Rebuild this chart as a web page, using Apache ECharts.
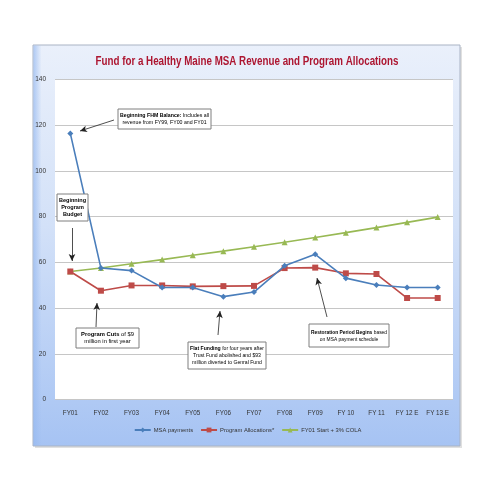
<!DOCTYPE html>
<html><head><meta charset="utf-8">
<script src="https://cdn.jsdelivr.net/npm/echarts@6/dist/echarts.min.js"></script>
<style>html,body{margin:0;padding:0;background:#fff}#c{width:495px;height:495px}</style>
</head><body><div id="c"></div>
<script>
var categories = ['FY01','FY02','FY03','FY04','FY05','FY06','FY07','FY08','FY09','FY 10','FY 11','FY 12 E','FY 13 E'];
var msaPayments = [116.4, 57.5, 56.4, 49, 49, 45, 47, 58.5, 63.5, 53.1, 50.1, 49, 49];
var programAllocations = [56, 47.6, 49.9, 49.9, 49.5, 49.6, 49.7, 57.5, 57.7, 55.2, 54.9, 44.4, 44.4];
var colaLine = [56, 57.5, 59.4, 61.2, 63.1, 64.9, 66.8, 68.8, 70.9, 73.0, 75.2, 77.5, 79.8];
var yTicks = {min: 0, max: 140, interval: 20};
var titleText = 'Fund for a Healthy Maine MSA Revenue and Program Allocations';

var chart = echarts.init(document.getElementById('c'), null, {renderer: 'canvas'});
var fam = '"Liberation Sans", Arial, sans-serif';

var mctx = document.createElement('canvas').getContext('2d');
function measure(txt, font) { mctx.font = font; return mctx.measureText(txt).width; }

// annotation box: lines = [[bold, regular], ...]
function textBox(x, y, w, h, lines) {
  var fs = 5.8;
  var maxW = 0, parts = [];
  lines.forEach(function (ln) {
    var wb = ln[0] ? measure(ln[0], 'bold ' + fs + 'px Liberation Sans') : 0;
    var wr = ln[1] ? measure(ln[1], fs + 'px Liberation Sans') : 0;
    maxW = Math.max(maxW, wb + wr);
    var s = '';
    if (ln[0]) s += '{b|' + ln[0] + '}';
    if (ln[1]) s += '{r|' + ln[1] + '}';
    parts.push(s);
  });
  var sx = Math.min(1, (w - 4) / maxW);
  return {
    type: 'group', x: x, y: y, children: [
      {type: 'rect', shape: {x: 0, y: 0, width: w, height: h},
       style: {fill: '#ffffff', stroke: '#7f7f7f', lineWidth: 1}, z: 100},
      {type: 'text', x: w / 2, y: h / 2, scaleX: sx, z: 101,
       style: {text: parts.join('\n'), align: 'center', verticalAlign: 'middle',
         font: fs + 'px ' + fam, fill: '#000', lineHeight: 7,
         rich: {b: {fontWeight: 'bold', fontSize: fs, fontFamily: fam, fill: '#000', lineHeight: 7},
                r: {fontSize: fs, fontFamily: fam, fill: '#000', lineHeight: 7}}}}
    ]
  };
}

// annotation arrows (pixel positions, not data)
function arrowLine(x1, y1, x2, y2) {
  return [{x: x1, y: y1, symbol: 'none'}, {x: x2, y: y2, symbol: 'arrow', symbolSize: [5, 7]}];
}

var titleFs = 13;
var titleW = measure(titleText, 'bold ' + titleFs + 'px Liberation Sans');
var titleScale = 303 / titleW;

var option = {
  animation: false,
  backgroundColor: '#ffffff',
  grid: {left: 55, right: 42, top: 79.5, bottom: 95.5, show: true, backgroundColor: '#ffffff', borderWidth: 0},
  legend: {
    bottom: 57, left: 'center', itemGap: 7, itemWidth: 16, itemHeight: 6,
    textStyle: {fontSize: 5.8, color: '#333', fontFamily: fam, padding: [0, 0, 0, -2]},
    data: ['MSA payments', 'Program Allocations*', 'FY01 Start + 3% COLA']
  },
  xAxis: {
    type: 'category', data: categories, boundaryGap: true,
    axisLine: {show: false}, axisTick: {show: false},
    axisLabel: {fontSize: 6.3, color: '#333', margin: 11, interval: 0, fontFamily: fam}
  },
  yAxis: {
    type: 'value', min: yTicks.min, max: yTicks.max, interval: yTicks.interval,
    axisLine: {show: false}, axisTick: {show: false},
    axisLabel: {fontSize: 6.5, color: '#333', margin: 9, fontFamily: fam},
    splitLine: {lineStyle: {color: '#c6c6c6', width: 1}}
  },
  series: [
    {
      name: 'MSA payments', type: 'line', data: msaPayments,
      symbol: 'diamond', symbolSize: 6,
      lineStyle: {color: '#4a7ebb', width: 1.6}, itemStyle: {color: '#4a7ebb'},
      z: 3,
      markLine: {
        silent: true, animation: false, symbol: ['none', 'arrow'],
        lineStyle: {color: '#222', width: 0.8, type: 'solid'},
        label: {show: false},
        data: [
          arrowLine(114, 120, 80, 131),
          arrowLine(72, 228, 72, 261),
          arrowLine(96, 327, 97, 303),
          arrowLine(218, 335, 220, 311),
          arrowLine(327, 317, 317, 278)
        ]
      }
    },
    {
      name: 'Program Allocations*', type: 'line', data: programAllocations,
      symbol: 'rect', symbolSize: 6,
      lineStyle: {color: '#be4b48', width: 1.6}, itemStyle: {color: '#be4b48'},
      z: 2
    },
    {
      name: 'FY01 Start + 3% COLA', type: 'line', data: colaLine,
      symbol: 'triangle', symbolSize: 6,
      lineStyle: {color: '#98b954', width: 1.6}, itemStyle: {color: '#98b954'},
      z: 1
    }
  ],
  graphic: [
    {type: 'rect', z: -10, silent: true,
     shape: {x: 35, y: 47, width: 427, height: 401},
     style: {fill: 'rgba(0,0,0,0.12)'}},
    {type: 'rect', z: -9, silent: true,
     shape: {x: 33, y: 45, width: 427, height: 401},
     style: {
       fill: new echarts.graphic.LinearGradient(0, 0, 0, 1, [
         {offset: 0, color: '#eaf0fb'}, {offset: 0.45, color: '#d3e1f8'}, {offset: 1, color: '#a6c3f3'}
       ]),
       stroke: '#a9b3c4', lineWidth: 1}},
    {type: 'rect', z: -8, silent: true,
     shape: {x: 33.5, y: 45.5, width: 8, height: 400},
     style: {fill: new echarts.graphic.LinearGradient(0, 0, 1, 0, [
       {offset: 0, color: 'rgba(150,185,240,0.7)'}, {offset: 1, color: 'rgba(150,185,240,0)'}])}},
    {type: 'text', x: 247, y: 61, scaleX: titleScale, z: 50,
     style: {text: titleText, align: 'center', verticalAlign: 'middle',
       font: 'bold ' + titleFs + 'px ' + fam, fill: '#ad1631'}},
    textBox(118, 109, 93, 20, [['Beginning FHM Balance:', ' Includes all'], ['', 'revenue from FY99, FY00 and FY01']]),
    textBox(57, 194, 31, 27, [['Beginning', ''], ['Program', ''], ['Budget', '']]),
    textBox(76, 328, 63, 20, [['Program Cuts', ' of $9'], ['', 'million in first year']]),
    textBox(188, 342, 78, 27, [['Flat Funding', ' for four years after'], ['', 'Trust Fund abolished and $93'], ['', 'million diverted to Genral Fund']]),
    textBox(309, 324, 80, 23, [['Restoration Period Begins', ' based'], ['', 'on MSA payment schedule']])
  ]
};
chart.setOption(option);
</script>
</body></html>
